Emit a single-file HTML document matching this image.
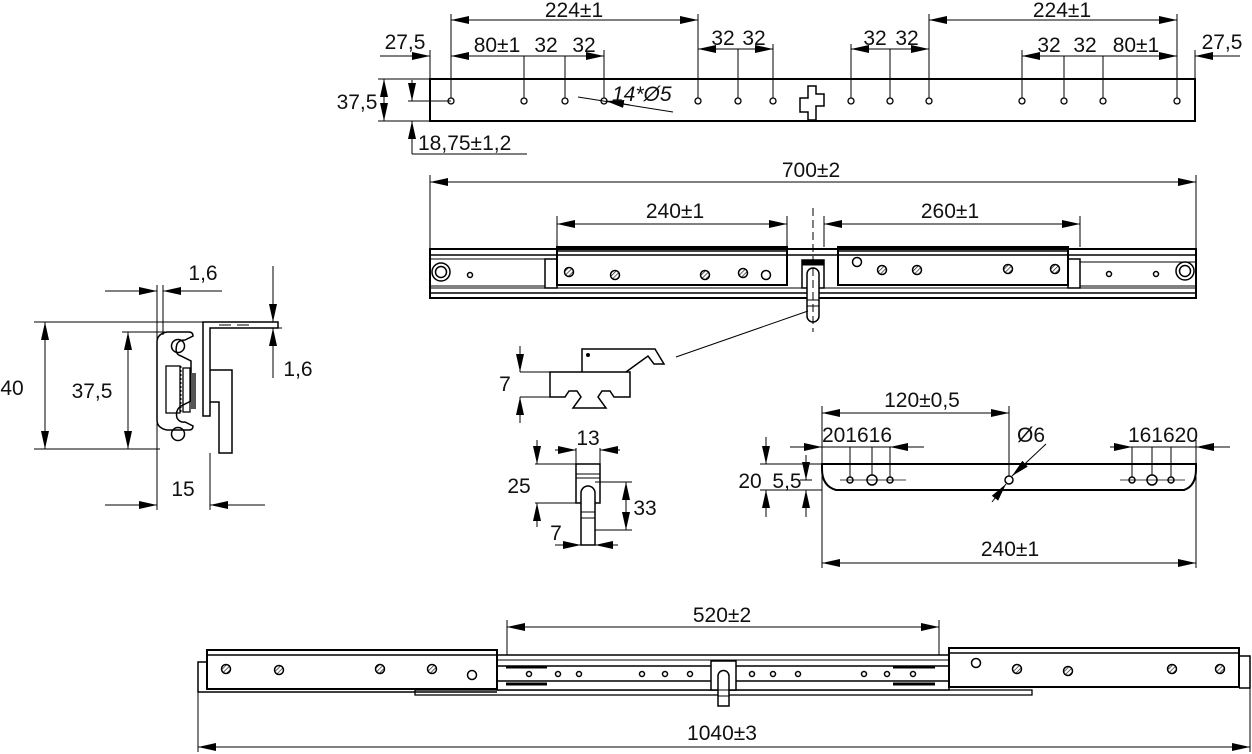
<!DOCTYPE html>
<html><head><style>
html,body{margin:0;padding:0;background:#fff;}
svg{display:block;}
text{font-family:"Liberation Sans",sans-serif;font-size:21px;fill:#111;}
</style></head><body>
<svg width="1252" height="754" viewBox="0 0 1252 754" xmlns="http://www.w3.org/2000/svg">
<defs>
<marker id="a" viewBox="0 0 18 8" refX="18" refY="4" markerWidth="18" markerHeight="8" markerUnits="userSpaceOnUse" orient="auto-start-reverse"><path d="M0,0 L18,4 L0,8 z" fill="#000"/></marker>
<pattern id="h" width="3" height="3" patternUnits="userSpaceOnUse" patternTransform="rotate(45)"><rect width="3" height="3" fill="#fff"/><line x1="0" y1="0" x2="0" y2="3" stroke="#000" stroke-width="1.2"/></pattern>
</defs>
<g fill="none" stroke="#000" stroke-width="1">
<!-- TOP STRIP -->
<rect x="430" y="79" width="765" height="42" stroke-width="2"/>
<g stroke-width="1.3">
<circle cx="451" cy="101" r="3"/><circle cx="524" cy="101" r="3"/><circle cx="565" cy="101" r="3"/><circle cx="604" cy="101" r="3"/>
<circle cx="698" cy="101" r="3"/><circle cx="738" cy="101" r="3"/><circle cx="773" cy="101" r="3"/>
<circle cx="851" cy="101" r="3"/><circle cx="890" cy="101" r="3"/><circle cx="929" cy="101" r="3"/>
<circle cx="1022" cy="101" r="3"/><circle cx="1064" cy="101" r="3"/><circle cx="1103" cy="101" r="3"/><circle cx="1177" cy="101" r="3"/>
</g>
<path d="M808,86 h8 v8 h8 v12 h-8 v14 h-8 v-8 h-8 v-14 h8 z" stroke-width="1.5"/>
<line x1="451" y1="14" x2="451" y2="98"/><line x1="698" y1="14" x2="698" y2="98"/>
<line x1="451" y1="20" x2="698" y2="20" marker-start="url(#a)" marker-end="url(#a)"/>
<line x1="929" y1="14" x2="929" y2="98"/><line x1="1177" y1="14" x2="1177" y2="98"/>
<line x1="929" y1="20" x2="1177" y2="20" marker-start="url(#a)" marker-end="url(#a)"/>
<line x1="430" y1="50" x2="430" y2="79"/><line x1="380" y1="56" x2="430" y2="56" marker-end="url(#a)"/>
<line x1="451" y1="56" x2="604" y2="56" marker-start="url(#a)" marker-end="url(#a)"/>
<line x1="524" y1="56" x2="524" y2="98"/><line x1="565" y1="56" x2="565" y2="98"/><line x1="604" y1="50" x2="604" y2="98"/>
<line x1="698" y1="49" x2="773" y2="49" marker-start="url(#a)" marker-end="url(#a)"/>
<line x1="738" y1="49" x2="738" y2="98"/><line x1="773" y1="44" x2="773" y2="98"/>
<line x1="851" y1="49" x2="929" y2="49" marker-start="url(#a)" marker-end="url(#a)"/>
<line x1="851" y1="44" x2="851" y2="98"/><line x1="890" y1="49" x2="890" y2="98"/>
<line x1="1022" y1="56" x2="1177" y2="56" marker-start="url(#a)" marker-end="url(#a)"/>
<line x1="1022" y1="50" x2="1022" y2="98"/><line x1="1064" y1="56" x2="1064" y2="98"/><line x1="1103" y1="56" x2="1103" y2="98"/>
<line x1="1195" y1="50" x2="1195" y2="79"/><line x1="1240" y1="56" x2="1195" y2="56" marker-end="url(#a)"/>
<line x1="378" y1="79" x2="430" y2="79"/><line x1="378" y1="121" x2="430" y2="121"/>
<line x1="384" y1="79" x2="384" y2="121" marker-start="url(#a)" marker-end="url(#a)"/>
<line x1="408" y1="101" x2="451" y2="101"/>
<line x1="412" y1="80" x2="412" y2="101" marker-end="url(#a)"/>
<line x1="412" y1="154" x2="412" y2="121" marker-end="url(#a)"/>
<line x1="412" y1="154" x2="527" y2="154"/>
<line x1="673" y1="112" x2="578" y2="97"/>
<line x1="630" y1="105" x2="606" y2="101" marker-end="url(#a)"/>
<!-- MIDDLE RAIL -->
<line x1="430" y1="175" x2="430" y2="249"/><line x1="1196" y1="175" x2="1196" y2="249"/>
<line x1="430" y1="182" x2="1196" y2="182" marker-start="url(#a)" marker-end="url(#a)"/>
<line x1="557" y1="216" x2="557" y2="247"/><line x1="787" y1="216" x2="787" y2="247"/>
<line x1="557" y1="224" x2="787" y2="224" marker-start="url(#a)" marker-end="url(#a)"/>
<line x1="824" y1="216" x2="824" y2="247"/><line x1="1080" y1="216" x2="1080" y2="247"/>
<line x1="824" y1="224" x2="1080" y2="224" marker-start="url(#a)" marker-end="url(#a)"/>
<rect x="430" y="249" width="766" height="49" stroke-width="2"/>
<line x1="430" y1="255" x2="1196" y2="255" stroke-width="1.5"/>
<line x1="430" y1="293" x2="1196" y2="293" stroke-width="1.5"/>
<line x1="430" y1="288" x2="1196" y2="288"/>
<line x1="430" y1="259" x2="545" y2="259"/><line x1="430" y1="286" x2="545" y2="286"/>
<rect x="545" y="259" width="12" height="29" stroke-width="1.5"/>
<rect x="557" y="247" width="230" height="38" stroke-width="2"/>
<line x1="557" y1="251" x2="787" y2="251" stroke-width="1.5"/>
<rect x="838" y="247" width="230" height="38" stroke-width="2"/>
<line x1="838" y1="251" x2="1068" y2="251" stroke-width="1.5"/>
<rect x="1068" y="259" width="12" height="29" stroke-width="1.5"/>
<line x1="1080" y1="262" x2="1196" y2="262"/><line x1="1080" y1="286" x2="1196" y2="286"/>
<g fill="url(#h)" stroke-width="1.5">
<circle cx="569" cy="272" r="4.5"/><circle cx="615" cy="275" r="4.5"/><circle cx="705" cy="275" r="4.5"/><circle cx="743" cy="273" r="4.5"/>
<circle cx="882" cy="270" r="4.5"/><circle cx="917" cy="270" r="4.5"/><circle cx="1008" cy="269" r="4.5"/><circle cx="1055" cy="269" r="4.5"/>
</g>
<circle cx="766" cy="275" r="4.5" stroke-width="1.5"/><circle cx="857" cy="262" r="4.5" stroke-width="1.5"/>
<circle cx="441" cy="272" r="9" stroke-width="1.5"/><circle cx="441" cy="272" r="5.5" stroke-width="1.5"/>
<circle cx="1185" cy="271" r="9" stroke-width="1.5"/><circle cx="1185" cy="271" r="5.5" stroke-width="1.5"/>
<circle cx="470" cy="275" r="2.5" stroke-width="1.5"/><circle cx="1109" cy="274" r="2.5" stroke-width="1.5"/><circle cx="1156" cy="274" r="2.5" stroke-width="1.5"/>
<rect x="802" y="260" width="22" height="28" fill="#fff" stroke-width="1.5"/>
<rect x="802" y="260" width="22" height="5" fill="#000"/>
<path d="M807,274 a6,6 0 0 1 12,0 v42 a6,6 0 0 1 -12,0 z" fill="#fff" stroke-width="1.5"/>
<line x1="807" y1="300" x2="819" y2="300"/><line x1="807" y1="306" x2="819" y2="306"/>
<line x1="813" y1="208" x2="813" y2="332" stroke-dasharray="8,4"/>
<line x1="808" y1="311" x2="676" y2="357"/>
<!-- LATCH DETAIL -->
<path d="M550,372 h80 v25 h-16 l-4,-6 h-8 l-4,6 l8,11 h-33 l8,-11 l-4,-6 h-8 l-4,6 h-15 z" stroke-width="1.5"/>
<path d="M582,372 v-23 h73 l9,15 h-10 l-6,-8 l-22,16" stroke-width="1.5"/>
<circle cx="588" cy="355" r="1.5" fill="#000"/>
<line x1="520" y1="372" x2="550" y2="372"/><line x1="520" y1="397" x2="550" y2="397"/>
<line x1="520" y1="346" x2="520" y2="372" marker-end="url(#a)"/>
<line x1="520" y1="423" x2="520" y2="397" marker-end="url(#a)"/>
<!-- PIN DETAIL -->
<rect x="576" y="464" width="24" height="39" stroke-width="1.5"/>
<line x1="576" y1="474" x2="600" y2="474"/><line x1="576" y1="478" x2="600" y2="478"/>
<path d="M581,493 a7,7 0 0 1 14,0 v52 h-14 z" fill="#fff" stroke-width="1.5"/>
<line x1="581" y1="512" x2="595" y2="512"/><line x1="581" y1="518" x2="595" y2="518"/>
<line x1="576" y1="448" x2="576" y2="464"/><line x1="600" y1="448" x2="600" y2="464"/>
<line x1="555" y1="450" x2="576" y2="450" marker-end="url(#a)"/><line x1="620" y1="450" x2="600" y2="450" marker-end="url(#a)"/>
<line x1="535" y1="464" x2="576" y2="464"/><line x1="535" y1="503" x2="576" y2="503"/>
<line x1="537" y1="440" x2="537" y2="464" marker-end="url(#a)"/><line x1="537" y1="527" x2="537" y2="503" marker-end="url(#a)"/>
<line x1="595" y1="482" x2="632" y2="482"/><line x1="595" y1="530" x2="632" y2="530"/>
<line x1="626" y1="482" x2="626" y2="530" marker-start="url(#a)" marker-end="url(#a)"/>
<line x1="555" y1="545" x2="581" y2="545" marker-end="url(#a)"/><line x1="618" y1="545" x2="595" y2="545" marker-end="url(#a)"/>
<!-- FLAT BAR -->
<path d="M822,464 H1196 v5 q0,17 -12,21 H836 q-14,-4 -14,-21 z" stroke-width="2"/>
<g stroke-width="1.5"><circle cx="850" cy="480" r="3"/><circle cx="872" cy="480" r="5"/><circle cx="890" cy="480" r="3"/>
<circle cx="1009" cy="480" r="4"/><circle cx="1132" cy="480" r="3"/><circle cx="1152" cy="480" r="5"/><circle cx="1171" cy="480" r="3"/></g>
<g stroke-width="0.8"><line x1="840" y1="480" x2="906" y2="480"/><line x1="1120" y1="480" x2="1185" y2="480"/></g>
<line x1="822" y1="406" x2="822" y2="568"/><line x1="1009" y1="406" x2="1009" y2="476"/><line x1="1196" y1="440" x2="1196" y2="568"/>
<line x1="822" y1="413" x2="1009" y2="413" marker-start="url(#a)" marker-end="url(#a)"/>
<line x1="790" y1="447" x2="822" y2="447" marker-end="url(#a)"/>
<line x1="822" y1="447" x2="924" y2="447"/><line x1="890" y1="447" x2="909" y2="447" marker-start="url(#a)"/>
<line x1="850" y1="447" x2="850" y2="477"/><line x1="872" y1="447" x2="872" y2="475"/><line x1="890" y1="447" x2="890" y2="477"/>
<line x1="1110" y1="447" x2="1196" y2="447"/><line x1="1113" y1="447" x2="1132" y2="447" marker-end="url(#a)"/>
<line x1="1230" y1="447" x2="1196" y2="447" marker-end="url(#a)"/>
<line x1="1132" y1="447" x2="1132" y2="477"/><line x1="1152" y1="447" x2="1152" y2="475"/><line x1="1171" y1="447" x2="1171" y2="477"/>
<line x1="760" y1="464" x2="822" y2="464"/><line x1="760" y1="490" x2="822" y2="490"/>
<line x1="766" y1="437" x2="766" y2="464" marker-end="url(#a)"/><line x1="766" y1="517" x2="766" y2="490" marker-end="url(#a)"/>
<line x1="800" y1="480" x2="812" y2="480"/>
<line x1="806" y1="455" x2="806" y2="480" marker-end="url(#a)"/><line x1="806" y1="517" x2="806" y2="490" marker-end="url(#a)"/>
<line x1="822" y1="563" x2="1196" y2="563" marker-start="url(#a)" marker-end="url(#a)"/>
<line x1="1046" y1="444" x2="1012" y2="476" marker-end="url(#a)"/>
<line x1="992" y1="502" x2="1006" y2="484" marker-end="url(#a)"/>
<!-- BOTTOM RAIL -->
<line x1="507" y1="620" x2="507" y2="655"/><line x1="939" y1="620" x2="939" y2="655"/>
<line x1="507" y1="627" x2="939" y2="627" marker-start="url(#a)" marker-end="url(#a)"/>
<line x1="198" y1="662" x2="198" y2="752"/><line x1="1250" y1="656" x2="1250" y2="752"/>
<line x1="198" y1="747" x2="1250" y2="747" marker-start="url(#a)" marker-end="url(#a)"/>
<path d="M207,662 H198 V692 H497" stroke-width="1.5"/>
<rect x="415" y="690" width="617" height="5" stroke-width="1.3"/>
<rect x="497" y="655" width="452" height="35" stroke-width="1.5" fill="#fff"/>
<line x1="497" y1="660" x2="949" y2="660"/><line x1="497" y1="666" x2="949" y2="666" stroke-width="1.5"/><line x1="497" y1="681" x2="949" y2="681" stroke-width="1.5"/>
<line x1="506" y1="667" x2="547" y2="667" stroke-width="3"/><line x1="506" y1="684" x2="547" y2="684" stroke-width="3"/>
<line x1="893" y1="667" x2="935" y2="667" stroke-width="3"/><line x1="893" y1="684" x2="935" y2="684" stroke-width="3"/>
<g stroke-width="1.5"><circle cx="529" cy="674" r="2.5"/><circle cx="558" cy="674" r="2.5"/><circle cx="579" cy="674" r="2.5"/><circle cx="642" cy="674" r="2.5"/><circle cx="665" cy="674" r="2.5"/><circle cx="690" cy="674" r="2.5"/>
<circle cx="752" cy="674" r="2.5"/><circle cx="773" cy="674" r="2.5"/><circle cx="798" cy="674" r="2.5"/><circle cx="864" cy="674" r="2.5"/><circle cx="887" cy="674" r="2.5"/><circle cx="913" cy="674" r="2.5"/></g>
<rect x="207" y="650" width="290" height="39" stroke-width="2" fill="#fff"/><line x1="207" y1="655" x2="497" y2="655" stroke-width="1.5"/>
<rect x="949" y="648" width="290" height="39" stroke-width="2" fill="#fff"/><line x1="949" y1="653" x2="1239" y2="653" stroke-width="1.5"/>
<path d="M1239,656 H1250 V688 H1239" stroke-width="1.5"/>
<g fill="url(#h)" stroke-width="1.5"><circle cx="226" cy="669" r="4.5"/><circle cx="279" cy="670" r="4.5"/><circle cx="380" cy="669" r="4.5"/><circle cx="432" cy="669" r="4.5"/>
<circle cx="1017" cy="669" r="4.5"/><circle cx="1068" cy="671" r="4.5"/><circle cx="1172" cy="669" r="4.5"/><circle cx="1220" cy="669" r="4.5"/></g>
<circle cx="472" cy="675" r="4.5" stroke-width="1.5"/><circle cx="976" cy="663" r="4.5" stroke-width="1.5"/>
<rect x="711" y="661" width="25" height="29" fill="#fff" stroke-width="1.5"/>
<path d="M718,676 a5.5,5.5 0 0 1 11,0 v30 h-11 z" fill="#fff" stroke-width="1.5"/>
<line x1="718" y1="690" x2="729" y2="690"/><line x1="718" y1="696" x2="729" y2="696"/>
<!-- CROSS SECTION -->
<line x1="34" y1="322" x2="278" y2="322"/><line x1="34" y1="449" x2="160" y2="449"/>
<line x1="45" y1="322" x2="45" y2="449" marker-start="url(#a)" marker-end="url(#a)"/>
<line x1="122" y1="332" x2="165" y2="332"/>
<line x1="128" y1="332" x2="128" y2="449" marker-start="url(#a)" marker-end="url(#a)"/>
<line x1="157" y1="285" x2="157" y2="510"/><line x1="163" y1="285" x2="163" y2="335"/>
<line x1="105" y1="291" x2="157" y2="291" marker-end="url(#a)"/><line x1="222" y1="291" x2="163" y2="291" marker-end="url(#a)"/>
<line x1="265" y1="328" x2="282" y2="328"/>
<line x1="273" y1="266" x2="273" y2="322" marker-end="url(#a)"/><line x1="273" y1="378" x2="273" y2="328" marker-end="url(#a)"/>
<line x1="210" y1="453" x2="210" y2="510"/>
<line x1="105" y1="505" x2="157" y2="505" marker-end="url(#a)"/><line x1="265" y1="505" x2="210" y2="505" marker-end="url(#a)"/>
<path d="M157,342 q0,-8 10,-10 h22 q4,0 4,4 l-8,4 q-6,0 -8,4 q-3,10 4,12 l10,5 v40 l-10,5 q-6,4 -4,12 q3,5 8,4 l8,4 q0,4 -4,4 h-22 q-10,-2 -10,-10 z" stroke-width="1.5"/>
<circle cx="178" cy="346" r="6.5" stroke-width="1.5"/><circle cx="178" cy="434" r="6.5" stroke-width="1.5"/>
<rect x="166" y="366" width="14" height="47" stroke-width="1.3"/><rect x="183" y="368" width="7" height="44" stroke-width="1.3"/>
<line x1="181" y1="366" x2="181" y2="413" stroke-dasharray="2,2"/>
<rect x="191" y="373" width="5" height="36" fill="#555" stroke="none"/>
<path d="M203,322 H278 V328 H210 V416 H203 Z" stroke-width="1.5"/>
<path d="M219,325 h12 M237,325 h12" stroke-width="1"/>
<path d="M210,370 H232 V453 H219 V402 H210" stroke-width="1.5"/>
</g>
<g>
<text x="574" y="17" text-anchor="middle">224±1</text>
<text x="1062" y="17" text-anchor="middle">224±1</text>
<text x="405" y="49" text-anchor="middle">27,5</text>
<text x="497" y="52" text-anchor="middle">80±1</text>
<text x="546" y="52" text-anchor="middle">32</text>
<text x="584" y="52" text-anchor="middle">32</text>
<text x="723" y="45" text-anchor="middle">32</text>
<text x="754" y="45" text-anchor="middle">32</text>
<text x="875" y="45" text-anchor="middle">32</text>
<text x="907" y="45" text-anchor="middle">32</text>
<text x="1049" y="52" text-anchor="middle">32</text>
<text x="1085" y="52" text-anchor="middle">32</text>
<text x="1136" y="52" text-anchor="middle">80±1</text>
<text x="1222" y="49" text-anchor="middle">27,5</text>
<text x="357" y="109" text-anchor="middle">37,5</text>
<text x="418" y="150">18,75±1,2</text>
<text x="612" y="101" font-style="italic">14*Ø5</text>
<text x="811" y="177" text-anchor="middle">700±2</text>
<text x="675" y="218" text-anchor="middle">240±1</text>
<text x="950" y="218" text-anchor="middle">260±1</text>
<text x="505" y="391" text-anchor="middle">7</text>
<text x="588" y="445" text-anchor="middle">13</text>
<text x="519" y="493" text-anchor="middle">25</text>
<text x="645" y="515" text-anchor="middle">33</text>
<text x="556" y="540" text-anchor="middle">7</text>
<text x="922" y="407" text-anchor="middle">120±0,5</text>
<text x="857" y="442" text-anchor="middle">201616</text>
<text x="1163" y="442" text-anchor="middle">161620</text>
<text x="1031" y="442" text-anchor="middle" font-size="16">Ø6</text>
<text x="750" y="488" text-anchor="middle">20</text>
<text x="787" y="488" text-anchor="middle">5,5</text>
<text x="1010" y="556" text-anchor="middle">240±1</text>
<text x="722" y="622" text-anchor="middle">520±2</text>
<text x="722" y="740" text-anchor="middle">1040±3</text>
<text x="203" y="280" text-anchor="middle" font-size="24">1,6</text>
<text x="298" y="376" text-anchor="middle" font-size="24">1,6</text>
<text x="12" y="395" text-anchor="middle" font-size="24">40</text>
<text x="92" y="398" text-anchor="middle" font-size="24">37,5</text>
<text x="183" y="496" text-anchor="middle" font-size="24">15</text>
</g>
</svg>
</body></html>
